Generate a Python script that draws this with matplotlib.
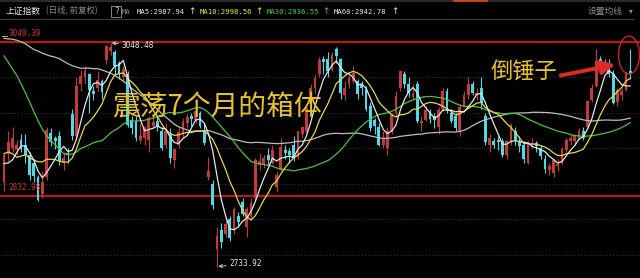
import numpy as np
import pandas as pd
import matplotlib
matplotlib.use("Agg")
import matplotlib.pyplot as plt
from matplotlib.patches import Ellipse, Rectangle
from matplotlib.lines import Line2D

# ---------------- data ----------------
# closes before the first drawn candle (only used so the moving averages start where the chart shows them)
pre_closes = [2953, 2941, 2994, 3027, 3054, 3102, 3106, 2969, 3026, 3060, 3026, 2990, 3021, 3096, 3091,
              3090, 3101, 3104, 2997, 2982, 3022, 2995, 3091, 3171, 3176, 3216, 3246, 3244, 3239, 3241,
              3189, 3189, 3177, 3253, 3263, 3251, 3271, 3215, 3198, 3201, 3124, 3086, 3063, 3078, 2906,
              2926, 2893, 2850, 2940, 2903, 2884, 2939, 2955, 2882, 2871, 2905, 2892, 2853, 2853]

opens = [2853, 2892, 2900, 2898, 2912, 2905, 2890, 2880, 2860, 2836, 2860, 2922, 2915, 2918, 2880, 2893,
         2948, 2918, 2990, 3000, 3005, 2980, 2985, 2995, 3024, 3037, 3035, 3020, 3000, 3005, 2940, 2938,
         2912, 2915, 2912, 2932, 2938, 2925, 2905, 2920, 2883, 2905, 2920, 2935, 2945, 2940, 2950, 2925,
         2860, 2850, 2759, 2785, 2780, 2800, 2785, 2805, 2825, 2790, 2805, 2830, 2876, 2877, 2890, 2880,
         2845, 2870, 2898, 2896, 2905, 2888, 2920, 2925, 2962, 2985, 3005, 3025, 3025, 3010, 3040, 3025,
         2975, 2990, 2995, 2995, 2990, 2983, 2960, 2940, 2930, 2905, 2900, 2925, 2950, 2985, 3005, 2990,
         2972, 2990, 2935, 2940, 2950, 2945, 2930, 2955, 2980, 2950, 2945, 2925, 2960, 2975, 2990, 2975,
         2985, 2945, 2905, 2910, 2912, 2910, 2890, 2910, 2925, 2910, 2905, 2880, 2904, 2908, 2900, 2885,
         2870, 2865, 2875, 2880, 2898, 2910, 2910, 2915, 2925, 2930, 2968, 2988, 3025, 3020, 3018, 3005,
         2965, 2975, 2982, 3008]
highs = [2893, 2925, 2930, 2912, 2920, 2920, 2895, 2885, 2862, 2868, 2930, 2928, 2918, 2925, 2895, 2900,
         2955, 3000, 3010, 3015, 3006, 2988, 3008, 2998, 3045, 3048.48, 3038, 3022, 3015, 3008, 2945, 2945,
         2935, 2932, 2945, 2948, 2945, 2930, 2935, 2928, 2900, 2930, 2942, 2948, 2950, 2958, 2952, 2935,
         2888, 2855, 2790, 2795, 2800, 2805, 2818, 2810, 2830, 2818, 2830, 2886, 2893, 2890, 2900, 2905,
         2868, 2915, 2905, 2900, 2918, 2925, 2932, 2958, 2990, 3003, 3028, 3030, 3035, 3035, 3042, 3027,
         2995, 3003, 3015, 2998, 2995, 2988, 2965, 2942, 2935, 2925, 2930, 2950, 2980, 3010, 3008, 3000,
         2990, 2995, 2945, 2960, 2955, 2950, 2958, 2985, 2985, 2955, 2950, 2962, 2980, 3000, 2995, 2985,
         3000, 2950, 2920, 2915, 2918, 2915, 2912, 2935, 2930, 2918, 2910, 2910, 2915, 2910, 2905, 2890,
         2880, 2885, 2885, 2902, 2915, 2920, 2920, 2928, 2930, 2968, 2990, 3040, 3030, 3025, 3025, 3010,
         2985, 2985, 3007, 3040]
lows = [2840, 2882, 2895, 2890, 2895, 2880, 2855, 2853, 2826, 2830, 2855, 2903, 2899, 2877, 2870, 2880,
        2912, 2913, 2980, 2990, 2950, 2968, 2980, 2970, 3018, 3031, 3005, 2998, 2993, 2930, 2920, 2910,
        2908, 2905, 2895, 2928, 2925, 2898, 2900, 2880, 2873, 2900, 2915, 2928, 2932, 2935, 2928, 2905,
        2855, 2815, 2733.92, 2760, 2775, 2770, 2780, 2790, 2805, 2775, 2800, 2828, 2870, 2872, 2876, 2878,
        2838, 2868, 2885, 2880, 2882, 2885, 2915, 2922, 2958, 2978, 3000, 3005, 3000, 3008, 3020, 2970,
        2968, 2985, 2992, 2970, 2975, 2952, 2925, 2920, 2903, 2900, 2890, 2920, 2945, 2980, 2985, 2972,
        2968, 2935, 2925, 2938, 2935, 2928, 2920, 2952, 2950, 2935, 2925, 2918, 2958, 2970, 2975, 2968,
        2955, 2905, 2895, 2900, 2898, 2888, 2885, 2905, 2905, 2895, 2880, 2878, 2900, 2895, 2885, 2865,
        2862, 2860, 2868, 2878, 2895, 2905, 2905, 2912, 2912, 2928, 2965, 2986, 3012, 3010, 3000, 2962,
        2960, 2968, 2980, 2998]
closes = [2890, 2909, 2914, 2905, 2899, 2890, 2862, 2861, 2828, 2852, 2926, 2909, 2910, 2882, 2887, 2890,
          2917, 2987, 3001, 3008, 2982, 2976, 2996, 2979, 3044, 3043, 3015, 3005, 3011, 2933, 2928, 2915,
          2917, 2930, 2942, 2937, 2931, 2901, 2924, 2886, 2899, 2923, 2937, 2944, 2941, 2953, 2932, 2908,
          2868, 2821, 2777, 2768, 2794, 2774, 2815, 2797, 2808, 2815, 2823, 2883, 2882, 2886, 2883, 2897,
          2863, 2902, 2893, 2890, 2886, 2924, 2930, 2957, 2985, 2999, 3024, 3021, 3008, 3031, 3030, 2978,
          2985, 2999, 3006, 2977, 2985, 2955, 2929, 2932, 2905, 2913, 2924, 2947, 2973, 3008, 2991, 2978,
          2977, 2938, 2939, 2954, 2941, 2940, 2954, 2980, 2954, 2939, 2929, 2958, 2975, 2991, 2978, 2978,
          2964, 2909, 2914, 2905, 2909, 2891, 2910, 2933, 2911, 2903, 2885, 2906, 2907, 2903, 2889, 2871,
          2875, 2884, 2878, 2899, 2912, 2914, 2917, 2924, 2915, 2967, 2985, 3022, 3017, 3017, 3005, 2963,
          2982, 2981, 3007, 3005]

ma_windows = [60, 30, 10, 5]
ma_labels = ["MA5:2987.94", "MA10:2998.56", "MA30:2936.55", "MA60:2942.78"]
box_top = 3049.39
box_bottom = 2832.98
peak_value = 3048.48
trough_value = 2733.92
grid_levels = [2750, 2800, 2850, 2900, 2950, 3000]

# ---------------- style ----------------
W, H = 640, 278
CJK = ["Noto Sans CJK SC", "DejaVu Sans"]
MONO = ["DejaVu Sans Mono"]
UP = "#c43a3a"
DN = "#4fd8e6"
MA_COLORS = {5: "#e6e6e6", 10: "#e8d84a", 30: "#4cc23c", 60: "#bdbdbd"}

fig = plt.figure(figsize=(W / 100, H / 100), dpi=100, facecolor="black")
ax = fig.add_axes([0, 0, 1, 258 / H])
ax.set_facecolor("black")
ax.set_xlim(-0.94, 149.3)
ax.set_ylim(2717.8, 3080.3)
ax.axis("off")

for g in grid_levels:
    ax.axhline(g, color="#4a4a4a", lw=0.6, ls=(0, (1, 2.5)), zorder=1)

ax.axhline(box_top, color="#b81818", lw=1.6, zorder=2)
ax.axhline(box_bottom, color="#b81818", lw=1.6, zorder=2)

n = len(closes)
idx = np.arange(n)
o = np.array(opens, float)
c = np.array(closes, float)
h = np.array(highs, float)
l = np.array(lows, float)
up = c >= o
ax.vlines(idx[up], l[up], h[up], color=UP, lw=0.8, zorder=3)
ax.vlines(idx[~up], l[~up], h[~up], color=DN, lw=0.8, zorder=3)
ax.bar(idx[up], np.maximum(c - o, 0.8)[up], bottom=o[up], width=0.66, color=UP, zorder=3)
ax.bar(idx[~up], np.maximum(o - c, 0.8)[~up], bottom=c[~up], width=0.66, color=DN, zorder=3)

s = pd.Series(pre_closes + closes, dtype=float)
for w in ma_windows:
    ma = s.rolling(w).mean().iloc[len(pre_closes):].to_numpy()
    ax.plot(idx, ma, color=MA_COLORS[w], lw=0.9, zorder=4)

def fx(x):
    return x / W

def fy(y):
    return 1 - y / H

# price labels on box lines
fig.text(fx(8), fy(34), f"{box_top:.2f}", color="#d42a2a", fontsize=5.6, family=MONO, va="center")
fig.text(fx(8), fy(188), f"{box_bottom:.2f}", color="#d42a2a", fontsize=5.6, family=MONO, va="center")
fig.add_artist(Line2D([fx(2), fx(7)], [fy(36), fy(36)], color="#d0d0d0", lw=0.6))

ax.annotate(f"{peak_value:.2f}", xy=(25, peak_value), xytext=(121, H - 46), textcoords="figure pixels",
            color="#e6e6e6", fontsize=5.6, family=MONO, va="center",
            arrowprops=dict(arrowstyle="->", color="#e6e6e6", lw=0.6, shrinkA=0, shrinkB=1))
ax.annotate(f"{trough_value:.2f}", xy=(50, trough_value), xytext=(229, H - 264), textcoords="figure pixels",
            color="#e6e6e6", fontsize=5.6, family=MONO, va="center",
            arrowprops=dict(arrowstyle="->", color="#e6e6e6", lw=0.6, shrinkA=0, shrinkB=1))

# big annotations
fig.text(fx(217), fy(107), "震荡7个月的箱体", color="#e8c22a", fontsize=20, family=CJK, ha="center", va="center")
fig.text(fx(524), fy(72), "倒锤子", color="#e8c22a", fontsize=16, family=CJK, ha="center", va="center")
ax.annotate("", xy=(618, H - 64), xytext=(558, H - 76), xycoords="figure pixels", textcoords="figure pixels",
            arrowprops=dict(arrowstyle="-|>,head_length=0.8,head_width=0.4", color="#e02828", lw=2.8))
fig.add_artist(Ellipse((6.29, (H - 55) / 100), 0.21, 0.38, transform=fig.dpi_scale_trans,
                       fill=False, ec="#d02020", lw=1.0))

# header
fig.add_artist(Rectangle((0, fy(2)), 1, 2 / H, transform=fig.transFigure, color="#2a2a2a", lw=0))
fig.add_artist(Rectangle((fx(453), fy(2)), 35 / W, 2 / H, transform=fig.transFigure, color="#c84418", lw=0))
fig.add_artist(Line2D([0, fx(633)], [fy(19), fy(19)], color="#3c3c3c", lw=0.8))
fig.text(fx(5), fy(11), "上证指数", color="#e8e8e8", fontsize=6.3, family=CJK, va="center")
fig.text(fx(46), fy(11), "(日线, 前复权)", color="#8c8c8c", fontsize=6.0, family=CJK, va="center")
fig.add_artist(Rectangle((fx(111), fy(17)), 10 / W, 11 / H, transform=fig.transFigure,
                         fill=False, ec="#9a9a9a", lw=0.6))
fig.text(fx(116), fy(11.5), "?", color="#cfcfcf", fontsize=5.5, family=MONO, va="center", ha="center")
fig.text(fx(122), fy(11.5), "MA", color="#8c8c8c", fontsize=5.2, family=MONO, va="center")
label_x = [137, 200, 267, 334]
arrow_x = [192, 259, 326, 395]
label_colors = ["#e6e6e6", "#f0ec20", "#2ce02c", "#e6e6e6"]
for lab, lx, axx, col in zip(ma_labels, label_x, arrow_x, label_colors):
    fig.text(fx(lx), fy(11.5), lab, color=col, fontsize=5.2, family=MONO, va="center")
    fig.text(fx(axx), fy(11.5), "↑", color=col, fontsize=6.5, family=["DejaVu Sans"], va="center", ha="center")
fig.text(fx(588), fy(11), "设置均线", color="#8c8c8c", fontsize=6.3, family=CJK, va="center")
fig.text(fx(631), fy(11), "▾", color="#8c8c8c", fontsize=5.5, family=["DejaVu Sans"], va="center", ha="center")

fig.savefig("out.png", dpi=100, facecolor="black")
